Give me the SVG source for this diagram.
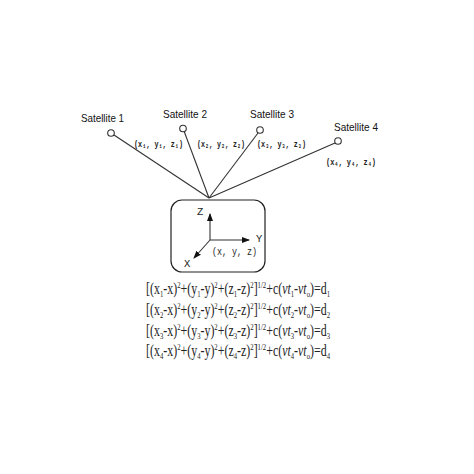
<svg xmlns="http://www.w3.org/2000/svg" width="474" height="474" viewBox="0 0 474 474">
<style>
.sat{font-family:"Liberation Sans",Arial,sans-serif;font-size:11px;fill:#111}
.co{font-family:"Liberation Mono","Courier New",monospace;font-size:9px;fill:#222;font-weight:bold}
.ax{font-family:"Liberation Mono","Courier New",monospace;font-size:10.5px;fill:#222}
.eq{font-family:"Liberation Serif","Times New Roman",serif;font-size:16px;fill:#222}
.sm{font-size:9px}
.ln{stroke:#333;stroke-width:1.1;fill:none}
.sc{fill:#fff;stroke:#333;stroke-width:1.1}
</style>
<defs>
<marker id="ah" markerWidth="8" markerHeight="8" refX="7" refY="4" orient="auto" markerUnits="userSpaceOnUse">
<path d="M0,1 L8,4 L0,7 Z" fill="#111"/>
</marker>
</defs>
<rect width="474" height="474" fill="#fff"/>
<g id="connectors">
<line class="ln" x1="114" y1="135" x2="209" y2="198"/>
<line class="ln" x1="184" y1="131" x2="209" y2="198"/>
<line class="ln" x1="258" y1="133" x2="209" y2="198"/>
<line class="ln" x1="335" y1="143" x2="209" y2="198"/>
</g>
<g id="sat1"><text class="sat" x="81" y="122" textLength="43" lengthAdjust="spacingAndGlyphs">Satellite 1</text><circle class="sc" cx="111" cy="133" r="3.3"/><text class="co" x="134" y="147" textLength="49" lengthAdjust="spacingAndGlyphs">(x₁, y₁, z₁)</text></g>
<g id="sat2"><text class="sat" x="163" y="118" textLength="44" lengthAdjust="spacingAndGlyphs">Satellite 2</text><circle class="sc" cx="183" cy="128.5" r="3.3"/><text class="co" x="197" y="147" textLength="48" lengthAdjust="spacingAndGlyphs">(x₂, y₂, z₂)</text></g>
<g id="sat3"><text class="sat" x="250" y="118" textLength="44" lengthAdjust="spacingAndGlyphs">Satellite 3</text><circle class="sc" cx="260" cy="130" r="3.3"/><text class="co" x="257" y="147" textLength="49" lengthAdjust="spacingAndGlyphs">(x₃, y₃, z₃)</text></g>
<g id="sat4"><text class="sat" x="334" y="131" textLength="44" lengthAdjust="spacingAndGlyphs">Satellite 4</text><circle class="sc" cx="338" cy="141" r="3.3"/><text class="co" x="326" y="165" textLength="50" lengthAdjust="spacingAndGlyphs">(x₄, y₄, z₄)</text></g>
<g id="receiver">
<rect x="171" y="200" width="94" height="72" rx="11" fill="none" stroke="#222" stroke-width="1.2"/>
<line class="ln" x1="210" y1="240" x2="210" y2="214" marker-end="url(#ah)"/>
<line class="ln" x1="210" y1="240" x2="249" y2="240" marker-end="url(#ah)"/>
<line class="ln" x1="210" y1="240" x2="194" y2="258" marker-end="url(#ah)"/>
<text class="ax" x="197" y="215">Z</text>
<text class="ax" x="256" y="242">Y</text>
<text class="ax" x="184" y="267">X</text>
<text class="ax" x="212" y="255" textLength="45" lengthAdjust="spacingAndGlyphs">(x, y, z)</text>
</g>
<g id="equations">
<text class="eq" transform="translate(146,294) scale(0.745,1)">[(x<tspan class="sm" dy="3">1</tspan><tspan dy="-3">-x)</tspan><tspan class="sm" dy="-6">2</tspan><tspan dy="6">+(y</tspan><tspan class="sm" dy="3">1</tspan><tspan dy="-3">-y)</tspan><tspan class="sm" dy="-6">2</tspan><tspan dy="6">+(z</tspan><tspan class="sm" dy="3">1</tspan><tspan dy="-3">-z)</tspan><tspan class="sm" dy="-6">2</tspan><tspan dy="6">]</tspan><tspan class="sm" dy="-6">1/2</tspan><tspan dy="6">+c(</tspan><tspan font-style="italic">vt</tspan><tspan class="sm" dy="3">1</tspan><tspan dy="-3">-</tspan><tspan font-style="italic">vt</tspan><tspan class="sm" dy="3">o</tspan><tspan dy="-3">)=d</tspan><tspan class="sm" dy="3">1</tspan></text>
<text class="eq" transform="translate(146,315) scale(0.745,1)">[(x<tspan class="sm" dy="3">2</tspan><tspan dy="-3">-x)</tspan><tspan class="sm" dy="-6">2</tspan><tspan dy="6">+(y</tspan><tspan class="sm" dy="3">2</tspan><tspan dy="-3">-y)</tspan><tspan class="sm" dy="-6">2</tspan><tspan dy="6">+(z</tspan><tspan class="sm" dy="3">2</tspan><tspan dy="-3">-z)</tspan><tspan class="sm" dy="-6">2</tspan><tspan dy="6">]</tspan><tspan class="sm" dy="-6">1/2</tspan><tspan dy="6">+c(</tspan><tspan font-style="italic">vt</tspan><tspan class="sm" dy="3">2</tspan><tspan dy="-3">-</tspan><tspan font-style="italic">vt</tspan><tspan class="sm" dy="3">o</tspan><tspan dy="-3">)=d</tspan><tspan class="sm" dy="3">2</tspan></text>
<text class="eq" transform="translate(146,336) scale(0.745,1)">[(x<tspan class="sm" dy="3">3</tspan><tspan dy="-3">-x)</tspan><tspan class="sm" dy="-6">2</tspan><tspan dy="6">+(y</tspan><tspan class="sm" dy="3">3</tspan><tspan dy="-3">-y)</tspan><tspan class="sm" dy="-6">2</tspan><tspan dy="6">+(z</tspan><tspan class="sm" dy="3">3</tspan><tspan dy="-3">-z)</tspan><tspan class="sm" dy="-6">2</tspan><tspan dy="6">]</tspan><tspan class="sm" dy="-6">1/2</tspan><tspan dy="6">+c(</tspan><tspan font-style="italic">vt</tspan><tspan class="sm" dy="3">3</tspan><tspan dy="-3">-</tspan><tspan font-style="italic">vt</tspan><tspan class="sm" dy="3">o</tspan><tspan dy="-3">)=d</tspan><tspan class="sm" dy="3">3</tspan></text>
<text class="eq" transform="translate(146,356) scale(0.745,1)">[(x<tspan class="sm" dy="3">4</tspan><tspan dy="-3">-x)</tspan><tspan class="sm" dy="-6">2</tspan><tspan dy="6">+(y</tspan><tspan class="sm" dy="3">4</tspan><tspan dy="-3">-y)</tspan><tspan class="sm" dy="-6">2</tspan><tspan dy="6">+(z</tspan><tspan class="sm" dy="3">4</tspan><tspan dy="-3">-z)</tspan><tspan class="sm" dy="-6">2</tspan><tspan dy="6">]</tspan><tspan class="sm" dy="-6">1/2</tspan><tspan dy="6">+c(</tspan><tspan font-style="italic">vt</tspan><tspan class="sm" dy="3">4</tspan><tspan dy="-3">-</tspan><tspan font-style="italic">vt</tspan><tspan class="sm" dy="3">o</tspan><tspan dy="-3">)=d</tspan><tspan class="sm" dy="3">4</tspan></text>
</g>
</svg>
